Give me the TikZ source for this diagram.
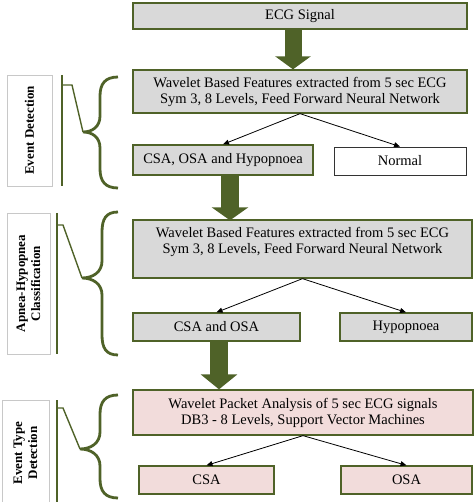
\documentclass[tikz,border=0pt]{standalone}
\usepackage{fontspec}
\setmainfont{Liberation Serif}
\usetikzlibrary{arrows.meta,calc}
\definecolor{olive}{RGB}{79,98,40}
\definecolor{boxgray}{RGB}{217,217,217}
\definecolor{boxpink}{RGB}{242,220,219}
\definecolor{lblgray}{RGB}{200,200,200}
\begin{document}
\begin{tikzpicture}[x=1pt,y=-1pt,
  base/.style={draw=olive, line width=1.3pt, inner sep=0pt, align=center, font=\fontsize{14.5}{16}\selectfont},
  graybox/.style={base, fill=boxgray},
  pinkbox/.style={base, fill=boxpink},
  whitebox/.style={base, draw=black!80, line width=0.8pt, fill=white},
  thinarrow/.style={-{Triangle[length=6pt,width=5pt]}, line width=0.8pt, black},
  lbl/.style={draw=lblgray, line width=0.6pt, fill=white, inner sep=0pt, align=center, rotate=90, font=\bfseries\fontsize{13}{15}\selectfont},
  deco/.style={draw=olive, line width=1.4pt},
  bracepath/.style={draw=olive, line width=2.8pt},
]
\useasboundingbox (0,0) rectangle (474,502);

% main boxes
\node[graybox, minimum width=334, minimum height=26] (ecg) at (300,16) {ECG Signal};
\node[graybox, minimum width=334, minimum height=43] (wf1) at (300,91.5) {Wavelet Based Features extracted from 5 sec ECG\\Sym 3, 8 Levels, Feed Forward Neural Network};
\node[graybox, minimum width=180, minimum height=30] (c1) at (223,160) {CSA, OSA and Hypopnoea};
\node[whitebox, minimum width=132, minimum height=28] (nrm) at (400,161) {Normal};
\node[graybox, minimum width=339, minimum height=58] (wf2) at (302.5,249) {Wavelet Based Features extracted from 5 sec ECG\\Sym 3, 8 Levels, Feed Forward Neural Network\rule[-17pt]{0pt}{1pt}};
\node[graybox, minimum width=167, minimum height=28] (co) at (216.5,327) {CSA and OSA};
\node[graybox, minimum width=132, minimum height=28] (hyp) at (406,327) {Hypopnoea};
\node[pinkbox, minimum width=340, minimum height=45] (wp) at (303,412.5) {Wavelet Packet Analysis of 5 sec ECG signals\\DB3 - 8 Levels, Support Vector Machines};
\node[pinkbox, minimum width=135, minimum height=28] (csa) at (206.5,480) {CSA};
\node[pinkbox, minimum width=131, minimum height=28] (osa) at (406.5,480) {OSA};

% thin arrows
\draw[thinarrow] (wf1.south) -- (c1.north);
\draw[thinarrow] (wf1.south) -- (nrm.north);
\draw[thinarrow] (wf2.south) -- (co.north);
\draw[thinarrow] (wf2.south) -- (hyp.north);
\draw[thinarrow] (wp.south) -- (csa.north);
\draw[thinarrow] (wp.south) -- (osa.north);

% fat arrows
\coordinate (f1) at ($(ecg.south)+(-7,0)$);
\coordinate (f2) at ($(c1.south)+(7,0)$);
\coordinate (f3) at ($(co.south)+(2.5,0)$);
\draw[olive, line width=17pt, -{Triangle[length=13pt,width=35pt]}] (f1) -- (f1 |- wf1.north);
\draw[olive, line width=18pt, -{Triangle[length=13pt,width=36pt]}] (f2) -- ($(f2 |- wf2.north)+(0,1)$);
\draw[olive, line width=18pt, -{Triangle[length=15pt,width=36pt]}] (f3) -- (f3 |- wp.north);

% left labels
\node[lbl, minimum width=111, minimum height=45] (l1) at (29.5,130.5) {Event Detection};
\node[lbl, minimum width=141, minimum height=43] (l2) at (28.5,283.5) {Apnea-Hypopnea\\Classification};
\node[lbl, minimum width=106, minimum height=47] (l3) at (25.5,453) {Event Type\\Detection};

% connector lines
\draw[deco] (62,75) -- (62,186);
\draw[deco] (62,85) -- (72,85) -- (83,132);
\draw[deco] (57,213) -- (57,354);
\draw[deco] (57,225) -- (63,225) -- (82,278);
\draw[deco] (57,400) -- (57,502);
\draw[deco] (57,408) -- (63,408) -- (80,449);

% braces
\draw[bracepath] (118,77) .. controls (105,77) and (100,84) .. (100,96) -- (100,116) .. controls (100,127) and (92,132) .. (83,132) .. controls (92,132) and (100,137) .. (100,148) -- (100,169) .. controls (100,181) and (105,188) .. (118,188);
\draw[bracepath] (118,212) .. controls (106,212) and (102,219) .. (102,232) -- (102,261) .. controls (102,272) and (93,278) .. (82,278) .. controls (93,278) and (102,284) .. (102,295) -- (102,335) .. controls (102,348) and (106,355) .. (118,355);
\draw[bracepath] (118,395) .. controls (105,395) and (100,402) .. (100,414) -- (100,432) .. controls (100,443) and (91,449) .. (80,449) .. controls (91,449) and (100,455) .. (100,466) -- (100,479) .. controls (100,491) and (105,498) .. (118,498);
\end{tikzpicture}
\end{document}
